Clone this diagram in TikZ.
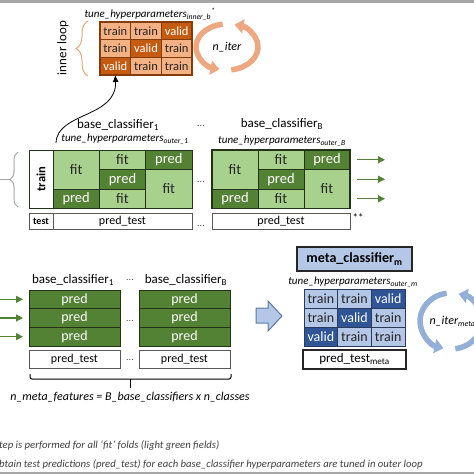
\documentclass[tikz,border=0pt]{standalone}
\usepackage{fontspec}
\setmainfont{Carlito}
\usetikzlibrary{arrows.meta,decorations.pathreplacing}

\definecolor{trainor}{HTML}{F4B183}
\definecolor{validor}{HTML}{C55A11}
\definecolor{edgeor}{HTML}{843C0C}
\definecolor{fitgr}{HTML}{A9D18E}
\definecolor{predgr}{HTML}{548235}
\definecolor{edgegr}{HTML}{22331A}
\definecolor{trainbl}{HTML}{B4C7E7}
\definecolor{validbl}{HTML}{2F5597}
\definecolor{edgebl}{HTML}{2A3A5A}
\definecolor{looparr}{HTML}{EDA882}
\definecolor{metaarr}{HTML}{93AFD8}
\definecolor{blockbl}{HTML}{B4C7E7}
\definecolor{blockedge}{HTML}{5B7BA6}
\definecolor{barg}{HTML}{A6A6A6}
\definecolor{notetxt}{HTML}{404040}

\begin{document}
\begin{tikzpicture}[x=1pt,y=-1pt,
  cell/.style={draw, inner sep=0pt, outer sep=0pt, line width=0.8pt},
  ortrain/.style={cell, draw=edgeor, fill=trainor, text=black!85, minimum width=30.67, minimum height=17.67, font=\fontsize{12.5}{12.5}\selectfont},
  orvalid/.style={ortrain, fill=validor, text=white},
  gfit/.style={cell, draw=edgegr, fill=fitgr, text=black!85, minimum width=46.33, minimum height=19.5, font=\fontsize{14.5}{14.5}\selectfont},
  gpred/.style={gfit, fill=predgr, text=white},
  gbar/.style={gpred, minimum width=91, minimum height=18.67, font=\fontsize{14}{14}\selectfont},
  testbox/.style={cell, draw=black!65, fill=white, minimum height=16, font=\fontsize{12}{12}\selectfont},
  bltrain/.style={cell, draw=edgebl, fill=trainbl, text=black!85, minimum width=33.67, minimum height=19, font=\fontsize{14}{14}\selectfont},
  blvalid/.style={bltrain, fill=validbl, text=white},
  metabox/.style={draw=black!85, line width=1.2pt, inner sep=0pt, minimum height=24, font=\fontsize{14}{14}\selectfont},
  clsname/.style={font=\fontsize{13}{13}\selectfont},
  tunelbl/.style={font=\itshape\fontsize{11}{11}\selectfont},
  dotslbl/.style={font=\fontsize{10}{10}\selectfont, text=black!70},
  note/.style={anchor=west, inner sep=0pt, text=notetxt, font=\itshape\fontsize{10.7}{10.7}\selectfont},
  garrow/.style={draw=predgr, line width=1.2pt, -{Triangle[width=7pt,length=7pt]}},
  looparrow/.style={line width=5.5pt, -{Triangle[width=14pt,length=9pt]}},
  obrace/.style={decorate, decoration={brace, amplitude=12pt}, line width=1pt}
]
\useasboundingbox (0,0) rectangle (474,474);
\clip (0,0) rectangle (474,474);

% frame bars
\fill[barg] (0,0) rectangle (474,2.5);
\fill[barg] (0,472) rectangle (474,474);

% inner loop
\node[tunelbl] (tuneinner) at (150,14) {tune\_hyperparameters\textsubscript{inner\_b}\textsuperscript{*}};
\node[ortrain] (i11) at (115.33,30.83) {train};
\node[ortrain] (i12) at (146,30.83) {train};
\node[orvalid] (i13) at (176.67,30.83) {valid};
\node[ortrain] (i21) at (115.33,48.5) {train};
\node[orvalid] (i22) at (146,48.5) {valid};
\node[ortrain] (i23) at (176.67,48.5) {train};
\node[orvalid] (i31) at (115.33,66.17) {valid};
\node[ortrain] (i32) at (146,66.17) {train};
\node[ortrain] (i33) at (176.67,66.17) {train};
\draw[edgeor, line width=1.2pt] (i11.north west) rectangle (i33.south east);

\node[rotate=90, font=\fontsize{13}{13}\selectfont] (innerlbl) at (63,48) {inner loop};
\draw[obrace, draw=trainor!80!brown] (88,76) -- (88,21);

\node[font=\itshape\fontsize{12}{12}\selectfont] (niter) at (227,47) {n\_iter};
\draw[looparrow, draw=looparr] (niter.center) ++(262:31 and 23) arc[start angle=262, end angle=104, x radius=31, y radius=23];
\draw[looparrow, draw=looparr] (niter.center) ++(82:31 and 23) arc[start angle=82, end angle=-76, x radius=31, y radius=23];

% outer loop, base classifier 1
\node[clsname] (cls1) at (118,125) {base\_classifier\textsubscript{1}};
\node[tunelbl] (tune1) at (125,139) {tune\_hyperparameters\textsubscript{outer\_1}};
\node[cell, draw=edgegr, fill=white, rotate=90, minimum width=58.5, minimum height=24, font=\bfseries\fontsize{12.5}{12.5}\selectfont] (tr1) at (41,179.25) {train};
\node[gfit, minimum height=39] (a11) at (76.17,169.5) {fit};
\node[gpred] (a31) at (76.17,198.75) {pred};
\node[gfit] (a12) at (122.5,159.75) {fit};
\node[gpred] (a22) at (122.5,179.25) {pred};
\node[gfit] (a32) at (122.5,198.75) {fit};
\node[gpred] (a13) at (168.83,159.75) {pred};
\node[gfit, minimum height=39] (a23) at (168.83,189) {fit};
\draw[edgegr, line width=1.3pt] (tr1.north west) rectangle (a23.south east);
\node[testbox, minimum width=24, font=\bfseries\fontsize{10}{10}\selectfont] (test1) at (41,221) {test};
\node[testbox, minimum width=139] (ptest1) at (122.5,221) {pred\_test};

\draw[obrace, decoration={amplitude=8pt}, draw=black!35] (18,207) -- (18,152);
\draw[draw=black!35, line width=1pt] (10,179.5) -- (0,179.5);

\coordinate (curvestart) at (56,143);
\draw[line width=0.8pt, -{Latex[length=7pt,width=6pt]}] (curvestart) .. controls (57,112) and (117,118) .. (i31.south);

\node[dotslbl] (dots1) at (201,126) {...};
\node[dotslbl] (dots2) at (201,182) {...};
\node[dotslbl] (dots3) at (201,226) {...};

% outer loop, base classifier B
\node[clsname] (clsB) at (282,124) {base\_classifier\textsubscript{B}};
\node[tunelbl] (tuneB) at (282,141) {tune\_hyperparameters\textsubscript{outer\_B}};
\node[gfit, minimum width=46, minimum height=39] (b11) at (235,169.5) {fit};
\node[gpred, minimum width=46] (b31) at (235,198.75) {pred};
\node[gfit, minimum width=46] (b12) at (281,159.75) {fit};
\node[gpred, minimum width=46] (b22) at (281,179.25) {pred};
\node[gfit, minimum width=46] (b32) at (281,198.75) {fit};
\node[gpred, minimum width=46] (b13) at (327,159.75) {pred};
\node[gfit, minimum width=46, minimum height=39] (b23) at (327,189) {fit};
\draw[edgegr, line width=1.3pt] (b11.north west) rectangle (b23.south east);
\node[testbox, minimum width=138] (ptestB) at (281,221.5) {pred\_test};
\node[font=\fontsize{11}{11}\selectfont] (stars) at (358,218) {**};

\draw[garrow] (b13.east) ++(7,0) -- ++(28,0);
\draw[garrow] (b23.east |- b22) ++(7,0) -- ++(28,0);
\draw[garrow] (b23.east |- b32) ++(7,0) -- ++(28,0);

% meta features
\coordinate (lm) at (0,0);
\node[clsname] (mcls1) at (73,280) {base\_classifier\textsubscript{1}};
\node[dotslbl] (mdots1) at (130,280) {...};
\node[clsname] (mclsB) at (186,280) {base\_classifier\textsubscript{B}};
\node[gbar] (p11) at (74.5,299.33) {pred};
\node[gbar] (p21) at (74.5,318) {pred};
\node[gbar] (p31) at (74.5,336.67) {pred};
\node[gbar] (p12) at (184.5,299.33) {pred};
\node[gbar] (p22) at (184.5,318) {pred};
\node[gbar] (p32) at (184.5,336.67) {pred};
\node[testbox, minimum width=91, minimum height=18] (pt1) at (74.5,359) {pred\_test};
\node[testbox, minimum width=91, minimum height=18] (pt2) at (184.5,359) {pred\_test};
\node[dotslbl] (mdots2) at (130,321) {...};
\node[dotslbl] (mdots3) at (130,360) {...};

\draw[garrow] (p11.west -| lm) -- ([xshift=-6pt]p11.west);
\draw[garrow] (p21.west -| lm) -- ([xshift=-6pt]p21.west);
\draw[garrow] (p31.west -| lm) -- ([xshift=-6pt]p31.west);

\draw[line width=1pt, rounded corners=2pt] (30,374) -- (30,379) -- (231,379) -- (231,374);
\draw[line width=1pt] (130.5,379) -- (130.5,388);
\node[font=\itshape\fontsize{12}{12}\selectfont] (nmeta) at (130,397) {n\_meta\_features = B\_base\_classifiers x n\_classes};

\draw[fill=blockbl, draw=blockedge, line width=1pt] (256,308) -- (268,308) -- (268,301) -- (282,316) -- (268,331) -- (268,323) -- (256,323) -- cycle;

% meta classifier
\node[metabox, fill=trainbl, minimum width=115, font=\bfseries\fontsize{14}{14}\selectfont] (meta) at (354.5,259) {meta\_classifier\textsubscript{m}};
\node[tunelbl] (tunem) at (353,282) {tune\_hyperparameters\textsubscript{outer\_m}};
\node[bltrain] (m11) at (320.83,298.5) {train};
\node[bltrain] (m12) at (354.5,298.5) {train};
\node[blvalid] (m13) at (388.17,298.5) {valid};
\node[bltrain] (m21) at (320.83,317.5) {train};
\node[blvalid] (m22) at (354.5,317.5) {valid};
\node[bltrain] (m23) at (388.17,317.5) {train};
\node[blvalid] (m31) at (320.83,336.5) {valid};
\node[bltrain] (m32) at (354.5,336.5) {train};
\node[bltrain] (m33) at (388.17,336.5) {train};
\node[metabox, fill=white, minimum width=103, minimum height=19, font=\fontsize{13}{13}\selectfont] (ptm) at (354.5,359.5) {pred\_test\textsubscript{meta}};

\coordinate (mloop) at (451,321);
\node[anchor=west, font=\itshape\fontsize{12}{12}\selectfont] (nitm) at (426,321) {n\_iter\textsubscript{meta}};
\draw[looparrow, draw=metaarr] (mloop) ++(262:31 and 28) arc[start angle=262, end angle=104, x radius=31, y radius=28];
\draw[looparrow, draw=metaarr] (mloop) ++(82:31 and 28) arc[start angle=82, end angle=-76, x radius=31, y radius=28];

% notes
\node[note] (note1) at (-1,446) {tep is performed for all `fit' folds (light green fields)};
\node[note] (note2) at (-1,464) {btain test predictions (pred\_test) for each base\_classifier hyperparameters are tuned in outer loop};
\end{tikzpicture}
\end{document}
